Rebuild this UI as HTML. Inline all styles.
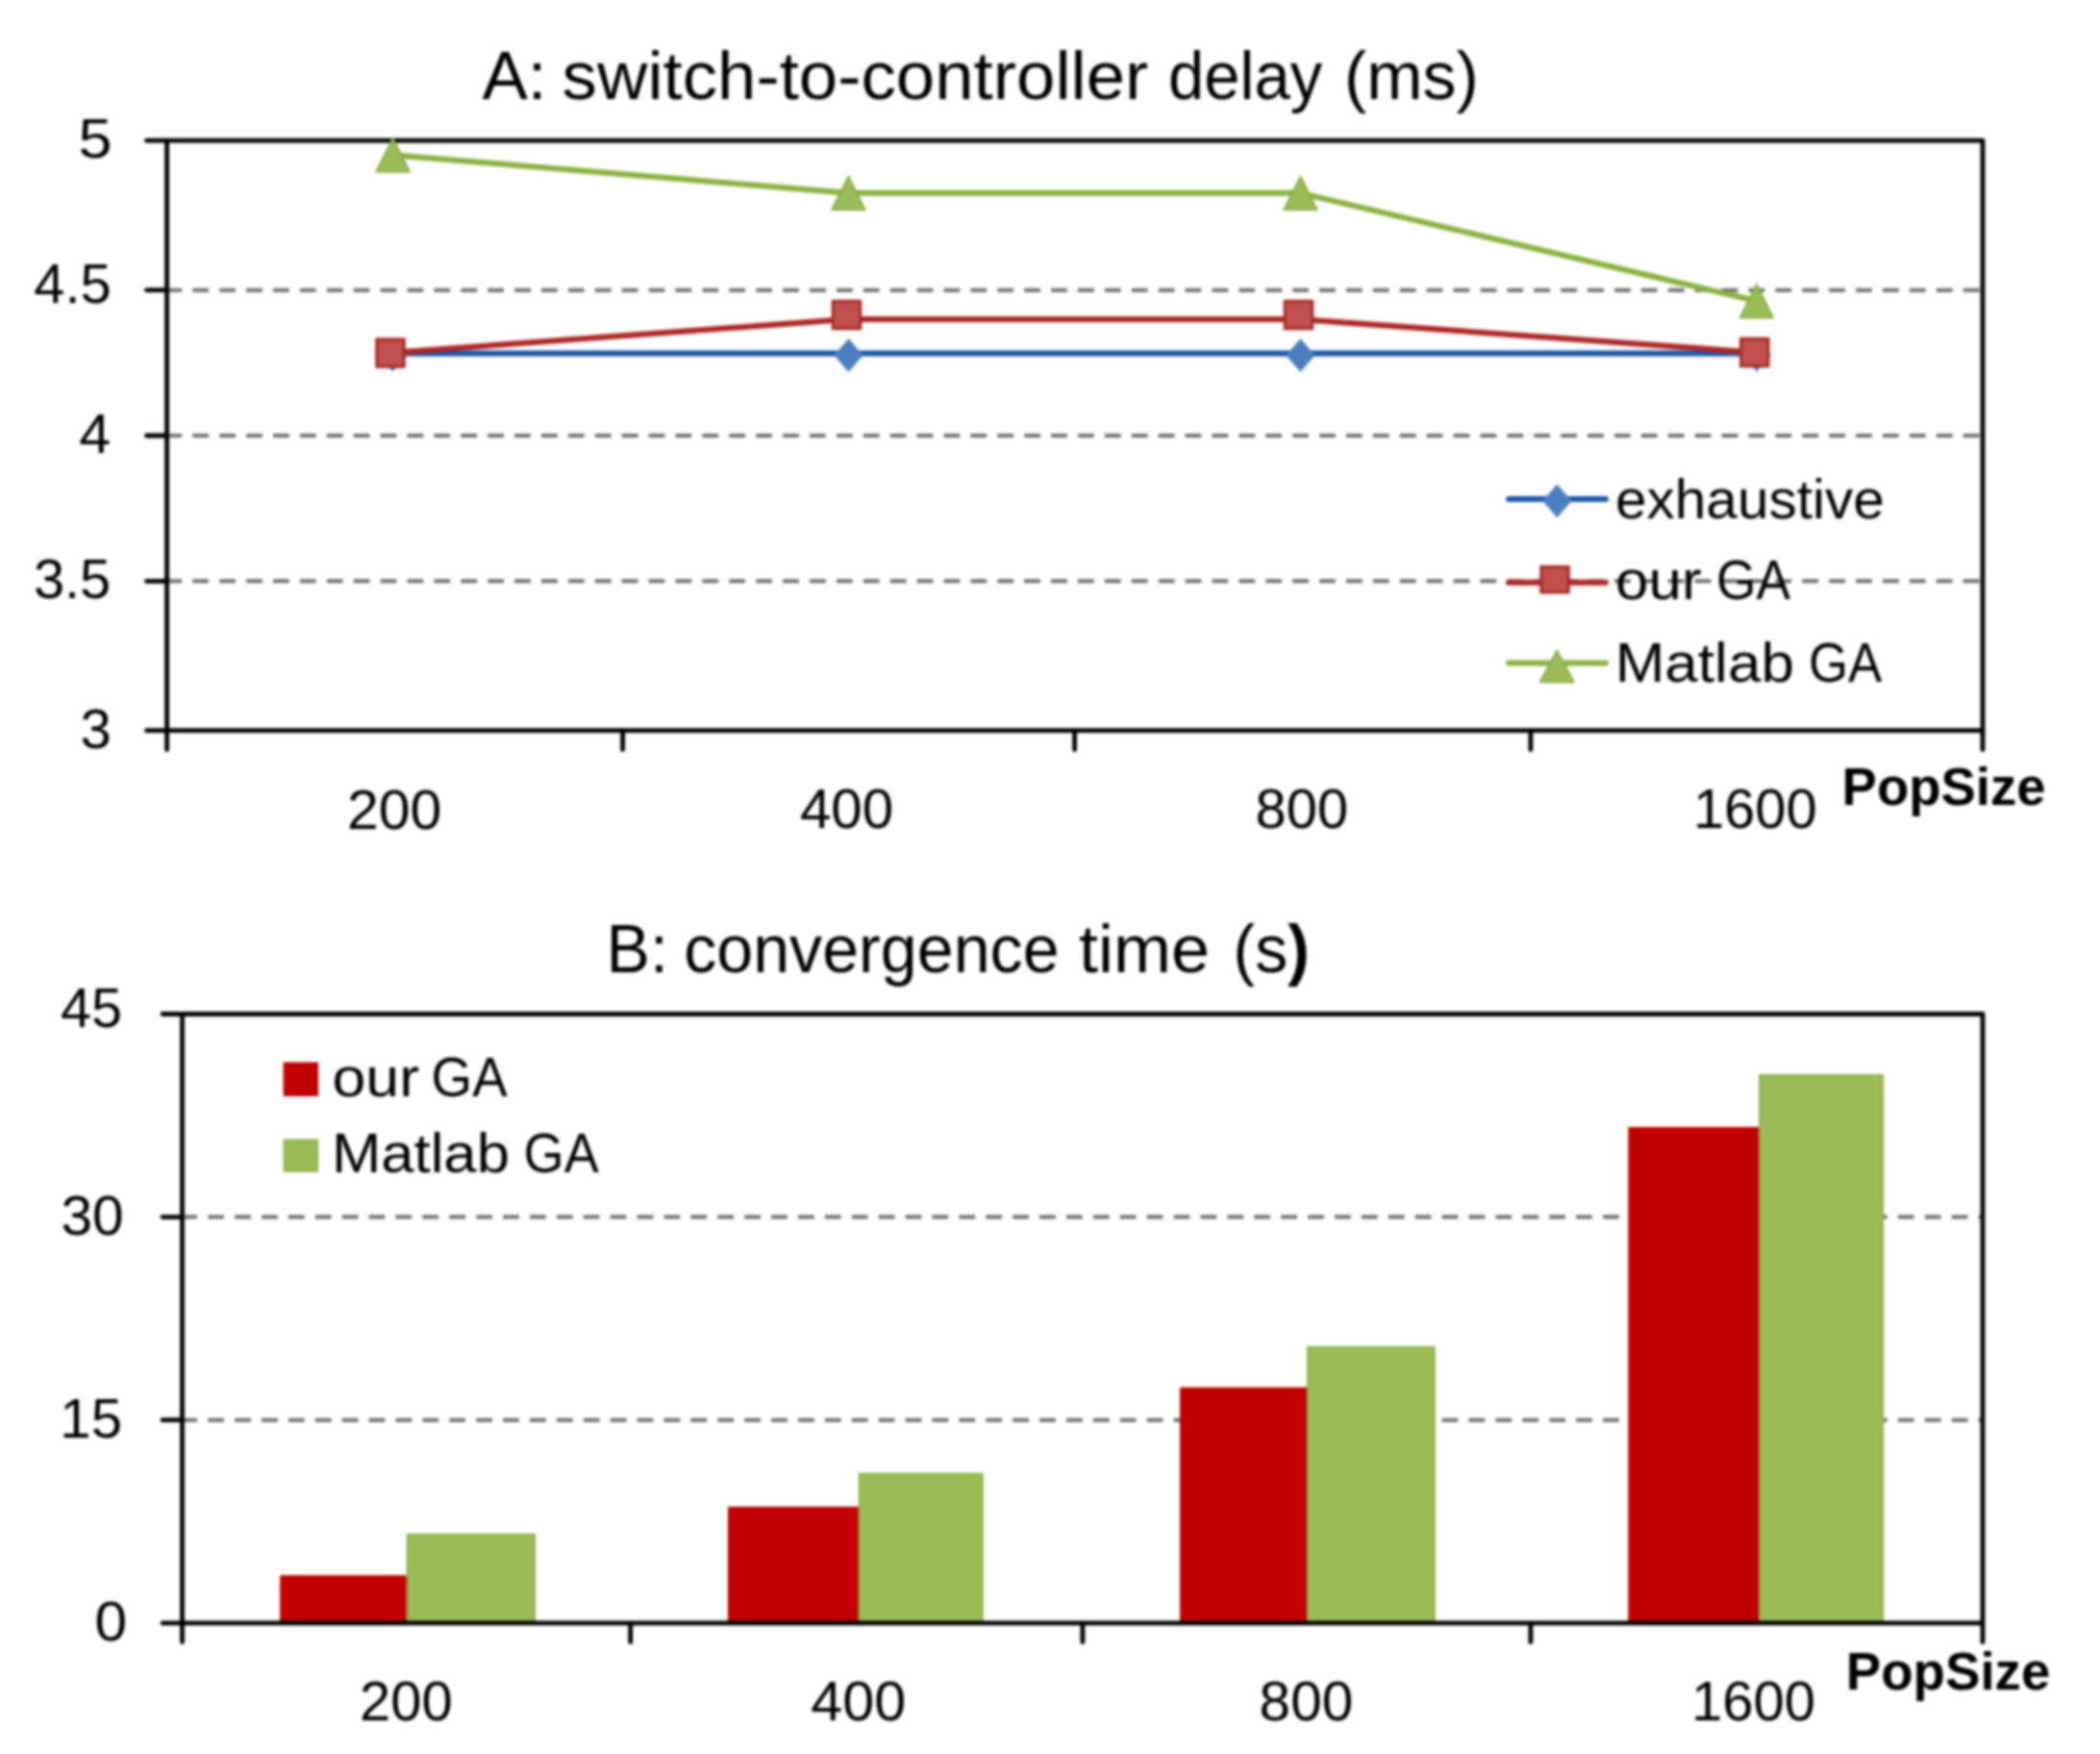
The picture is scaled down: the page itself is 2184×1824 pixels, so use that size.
<!DOCTYPE html>
<html><head><meta charset="utf-8"><title>A: switch-to-controller delay / B: convergence time</title>
<style>
html,body{margin:0;padding:0;background:#fff;}
svg{display:block;filter:blur(1.5px);}
text{font-family:"Liberation Sans", Arial, sans-serif;fill:#000;}
</style></head>
<body>
<svg width="2184" height="1824" viewBox="0 0 2184 1824">
<rect width="2184" height="1824" fill="#fff"/>
<line x1="172.4" y1="301.7" x2="2062.0" y2="301.7" stroke="#6e6e6e" stroke-width="4.0" stroke-dasharray="16.8 11.1"/>
<line x1="172.4" y1="453.0" x2="2062.0" y2="453.0" stroke="#6e6e6e" stroke-width="4.0" stroke-dasharray="16.8 11.1"/>
<line x1="172.4" y1="604.3" x2="2062.0" y2="604.3" stroke="#6e6e6e" stroke-width="4.0" stroke-dasharray="16.8 11.1"/>
<line x1="188.3" y1="1265.6" x2="2062.0" y2="1265.6" stroke="#6e6e6e" stroke-width="4.0" stroke-dasharray="16.8 11.1"/>
<line x1="188.3" y1="1476.7" x2="2062.0" y2="1476.7" stroke="#6e6e6e" stroke-width="4.0" stroke-dasharray="16.8 11.1"/>
<rect x="291.1" y="1638.2" width="131.7" height="49.6" fill="#c00000"/>
<rect x="423.8" y="1595.8" width="132.3" height="92.0" fill="#9bbb59" stroke="#8cb044" stroke-width="2"/>
<rect x="757.0" y="1566.8" width="135.8" height="121.0" fill="#c00000"/>
<rect x="893.8" y="1532.8" width="127.9" height="155.0" fill="#9bbb59" stroke="#8cb044" stroke-width="2"/>
<rect x="1227.0" y="1442.7" width="132.1" height="245.1" fill="#c00000"/>
<rect x="1360.1" y="1400.9" width="131.6" height="286.9" fill="#9bbb59" stroke="#8cb044" stroke-width="2"/>
<rect x="1693.3" y="1172.0" width="135.8" height="515.8" fill="#c00000"/>
<rect x="1830.1" y="1118.0" width="127.9" height="569.8" fill="#9bbb59" stroke="#8cb044" stroke-width="2"/>
<path d="M173.6,759.7 L173.6,146.2 L2062.0,146.2 L2062.0,759.7 Z" fill="none" stroke="#000" stroke-width="4.8" stroke-linejoin="round"/>
<line x1="152.5" y1="146.2" x2="173.6" y2="146.2" stroke="#000" stroke-width="4.8" stroke-linecap="round"/>
<line x1="152.5" y1="301.7" x2="173.6" y2="301.7" stroke="#000" stroke-width="4.8" stroke-linecap="round"/>
<line x1="152.5" y1="453.0" x2="173.6" y2="453.0" stroke="#000" stroke-width="4.8" stroke-linecap="round"/>
<line x1="152.5" y1="604.3" x2="173.6" y2="604.3" stroke="#000" stroke-width="4.8" stroke-linecap="round"/>
<line x1="152.5" y1="759.7" x2="173.6" y2="759.7" stroke="#000" stroke-width="4.8" stroke-linecap="round"/>
<line x1="173.6" y1="759.7" x2="173.6" y2="779.5" stroke="#000" stroke-width="4.8" stroke-linecap="round"/>
<line x1="647.6" y1="759.7" x2="647.6" y2="779.5" stroke="#000" stroke-width="4.8" stroke-linecap="round"/>
<line x1="1117.6" y1="759.7" x2="1117.6" y2="779.5" stroke="#000" stroke-width="4.8" stroke-linecap="round"/>
<line x1="1591.9" y1="759.7" x2="1591.9" y2="779.5" stroke="#000" stroke-width="4.8" stroke-linecap="round"/>
<line x1="2062.0" y1="759.7" x2="2062.0" y2="779.5" stroke="#000" stroke-width="4.8" stroke-linecap="round"/>
<path d="M189.5,1687.8 L189.5,1054.5 L2062.0,1054.5 L2062.0,1687.8 Z" fill="none" stroke="#000" stroke-width="4.8" stroke-linejoin="round"/>
<line x1="169.0" y1="1054.5" x2="189.5" y2="1054.5" stroke="#000" stroke-width="4.8" stroke-linecap="round"/>
<line x1="169.0" y1="1265.6" x2="189.5" y2="1265.6" stroke="#000" stroke-width="4.8" stroke-linecap="round"/>
<line x1="169.0" y1="1476.7" x2="189.5" y2="1476.7" stroke="#000" stroke-width="4.8" stroke-linecap="round"/>
<line x1="169.0" y1="1687.8" x2="189.5" y2="1687.8" stroke="#000" stroke-width="4.8" stroke-linecap="round"/>
<line x1="189.5" y1="1687.8" x2="189.5" y2="1707.5" stroke="#000" stroke-width="4.8" stroke-linecap="round"/>
<line x1="655.7" y1="1687.8" x2="655.7" y2="1707.5" stroke="#000" stroke-width="4.8" stroke-linecap="round"/>
<line x1="1125.9" y1="1687.8" x2="1125.9" y2="1707.5" stroke="#000" stroke-width="4.8" stroke-linecap="round"/>
<line x1="1591.9" y1="1687.8" x2="1591.9" y2="1707.5" stroke="#000" stroke-width="4.8" stroke-linecap="round"/>
<line x1="2062.0" y1="1687.8" x2="2062.0" y2="1707.5" stroke="#000" stroke-width="4.8" stroke-linecap="round"/>
<polyline points="408.5,367.5 882.5,367.5 1352.5,367.5 1826.5,367.5" fill="none" stroke="#1b57a6" stroke-width="6" stroke-linejoin="round" stroke-linecap="round"/>
<path d="M408.5,351.5 L423.5,369.0 L408.5,386.5 L393.5,369.0 Z" fill="#4a7ebe"/>
<path d="M882.5,352.0 L897.5,369.5 L882.5,387.0 L867.5,369.5 Z" fill="#4a7ebe"/>
<path d="M1352.5,352.0 L1367.5,369.5 L1352.5,387.0 L1337.5,369.5 Z" fill="#4a7ebe"/>
<path d="M1827.0,351.5 L1842.0,369.0 L1827.0,386.5 L1812.0,369.0 Z" fill="#4a7ebe"/>
<polyline points="406.0,367.0 881.0,332.0 1351.0,332.0 1825.0,366.5" fill="none" stroke="#ad2626" stroke-width="6" stroke-linejoin="round" stroke-linecap="round"/>
<rect x="391.8" y="352.8" width="28.5" height="28.5" fill="#c0504d" stroke="#a82622" stroke-width="3"/>
<rect x="866.2" y="313.2" width="28.5" height="28.5" fill="#c0504d" stroke="#a82622" stroke-width="3"/>
<rect x="1336.3" y="313.2" width="28.5" height="28.5" fill="#c0504d" stroke="#a82622" stroke-width="3"/>
<rect x="1810.5" y="352.2" width="28.5" height="28.5" fill="#c0504d" stroke="#a82622" stroke-width="3"/>
<polyline points="408.6,161.2 882.4,200.8 1352.6,200.8 1826.9,313.0" fill="none" stroke="#89b13f" stroke-width="6" stroke-linejoin="round" stroke-linecap="round"/>
<path d="M408.6,143.7 L426.1,178.7 L391.1,178.7 Z" fill="#9bbb59" stroke="#80a83a" stroke-width="1.5" stroke-linejoin="round"/>
<path d="M882.4,183.3 L899.9,218.3 L864.9,218.3 Z" fill="#9bbb59" stroke="#80a83a" stroke-width="1.5" stroke-linejoin="round"/>
<path d="M1352.6,183.3 L1370.1,218.3 L1335.1,218.3 Z" fill="#9bbb59" stroke="#80a83a" stroke-width="1.5" stroke-linejoin="round"/>
<path d="M1826.9,295.5 L1844.4,330.5 L1809.4,330.5 Z" fill="#9bbb59" stroke="#80a83a" stroke-width="1.5" stroke-linejoin="round"/>
<line x1="1569" y1="519" x2="1670" y2="519" stroke="#1b57a6" stroke-width="6" stroke-linecap="round"/>
<path d="M1619.4,503.5 L1634.4,521.0 L1619.4,538.5 L1604.4,521.0 Z" fill="#4a7ebe"/>
<line x1="1569" y1="605.7" x2="1670" y2="605.7" stroke="#ad2626" stroke-width="6" stroke-linecap="round"/>
<rect x="1602.8" y="589.4" width="28.5" height="26.5" fill="#c0504d" stroke="#a82622" stroke-width="3"/>
<line x1="1569" y1="689.5" x2="1670" y2="689.5" stroke="#89b13f" stroke-width="6" stroke-linecap="round"/>
<path d="M1619.2,676.0 L1636.95,709.4000000000001 L1601.45,709.4000000000001 Z" fill="#9bbb59" stroke="#80a83a" stroke-width="1.5" stroke-linejoin="round"/>
<rect x="294.6" y="1104.6" width="36.5" height="35.4" fill="#c00000"/>
<rect x="295.6" y="1185.6" width="34.5" height="32.3" fill="#9bbb59" stroke="#8cb044" stroke-width="2"/>
<text x="501.4" y="102.8" font-size="70" textLength="67.2" lengthAdjust="spacingAndGlyphs">A:</text>
<text x="584.6" y="102.8" font-size="70" textLength="609.7" lengthAdjust="spacingAndGlyphs">switch-to-controller</text>
<text x="1215.0" y="102.8" font-size="70" textLength="160.3" lengthAdjust="spacingAndGlyphs">delay</text>
<text x="1398.0" y="102.8" font-size="70" textLength="139.9" lengthAdjust="spacingAndGlyphs">(ms)</text>
<text x="630.5" y="1010.8" font-size="70" textLength="64.3" lengthAdjust="spacingAndGlyphs">B:</text>
<text x="711.2" y="1010.8" font-size="70" textLength="390.4" lengthAdjust="spacingAndGlyphs">convergence</text>
<text x="1122.0" y="1010.8" font-size="70" textLength="136.2" lengthAdjust="spacingAndGlyphs">time</text>
<text x="1282.5" y="1010.8" font-size="70" textLength="79.5" lengthAdjust="spacingAndGlyphs">(s<tspan font-weight="bold">)</tspan></text>
<text x="81.4" y="164.3" font-size="57" textLength="35.0" lengthAdjust="spacingAndGlyphs">5</text>
<text x="35.2" y="315.2" font-size="57" textLength="80.5" lengthAdjust="spacingAndGlyphs">4.5</text>
<text x="82.3" y="470.8" font-size="57" textLength="32.9" lengthAdjust="spacingAndGlyphs">4</text>
<text x="34.9" y="621.9" font-size="57" textLength="80.4" lengthAdjust="spacingAndGlyphs">3.5</text>
<text x="83.5" y="777.9" font-size="57" textLength="32.3" lengthAdjust="spacingAndGlyphs">3</text>
<text x="360.9" y="862.0" font-size="57" textLength="98.6" lengthAdjust="spacingAndGlyphs">200</text>
<text x="831.9" y="861.4" font-size="57" textLength="97.3" lengthAdjust="spacingAndGlyphs">400</text>
<text x="1305.6" y="861.4" font-size="57" textLength="96.6" lengthAdjust="spacingAndGlyphs">800</text>
<text x="1760.9" y="861.4" font-size="57" textLength="128.9" lengthAdjust="spacingAndGlyphs">1600</text>
<text x="1915.6" y="837.3" font-size="55" font-weight="bold" textLength="211.9" lengthAdjust="spacingAndGlyphs">PopSize</text>
<text x="1680.0" y="538.7" font-size="58" textLength="279.8" lengthAdjust="spacingAndGlyphs">exhaustive</text>
<text x="1680.0" y="622.5" font-size="58" textLength="89.5" lengthAdjust="spacingAndGlyphs">our</text>
<text x="1785.1" y="622.5" font-size="58" textLength="77.0" lengthAdjust="spacingAndGlyphs">GA</text>
<text x="1679.7" y="709.4" font-size="58" textLength="186.2" lengthAdjust="spacingAndGlyphs">Matlab</text>
<text x="1880.9" y="709.4" font-size="58" textLength="76.3" lengthAdjust="spacingAndGlyphs">GA</text>
<text x="63.0" y="1067.9" font-size="57" textLength="64.0" lengthAdjust="spacingAndGlyphs">45</text>
<text x="63.4" y="1283.5" font-size="57" textLength="65.2" lengthAdjust="spacingAndGlyphs">30</text>
<text x="62.3" y="1495.1" font-size="57" textLength="64.7" lengthAdjust="spacingAndGlyphs">15</text>
<text x="98.6" y="1706.0" font-size="57" textLength="33.7" lengthAdjust="spacingAndGlyphs">0</text>
<text x="374.1" y="1789.1" font-size="57" textLength="96.7" lengthAdjust="spacingAndGlyphs">200</text>
<text x="843.3" y="1789.1" font-size="57" textLength="98.9" lengthAdjust="spacingAndGlyphs">400</text>
<text x="1309.5" y="1789.2" font-size="57" textLength="97.9" lengthAdjust="spacingAndGlyphs">800</text>
<text x="1758.9" y="1789.2" font-size="57" textLength="129.0" lengthAdjust="spacingAndGlyphs">1600</text>
<text x="1919.8" y="1757.1" font-size="55" font-weight="bold" textLength="212.5" lengthAdjust="spacingAndGlyphs">PopSize</text>
<text x="345.5" y="1140.0" font-size="58" textLength="90.6" lengthAdjust="spacingAndGlyphs">our</text>
<text x="448.6" y="1140.0" font-size="58" textLength="79.1" lengthAdjust="spacingAndGlyphs">GA</text>
<text x="345.0" y="1219.4" font-size="58" textLength="184.9" lengthAdjust="spacingAndGlyphs">Matlab</text>
<text x="544.6" y="1219.4" font-size="58" textLength="78.2" lengthAdjust="spacingAndGlyphs">GA</text>
</svg>
</body></html>
